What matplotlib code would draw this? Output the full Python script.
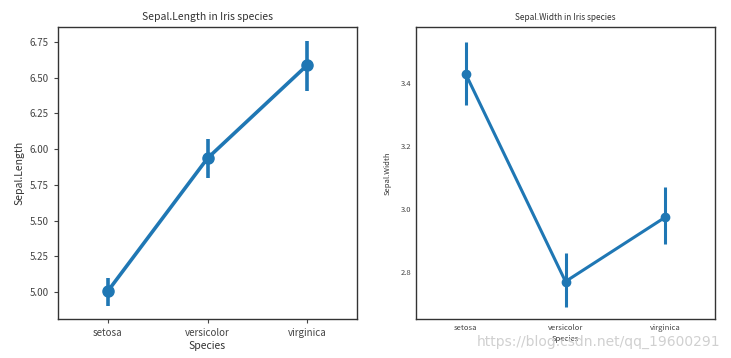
import numpy as np
import matplotlib.pyplot as plt

plt.rcParams['font.family'] = ['Noto Sans CJK SC', 'DejaVu Sans']

# Iris species means with 95% CI
species = ["setosa", "versicolor", "virginica"]
length_mean = [5.006, 5.936, 6.588]
length_lo = [4.90, 5.80, 6.41]
length_hi = [5.10, 6.07, 6.76]
width_mean = [3.428, 2.770, 2.974]
width_lo = [3.33, 2.69, 2.89]
width_hi = [3.53, 2.86, 3.07]

color = '#1f77b4'
fig = plt.figure(figsize=(7.31, 3.58), dpi=100)
ax1 = fig.add_axes([58/731, 1-319/358, 299/731, 292/358])
ax2 = fig.add_axes([416/731, 1-319/358, 299/731, 292/358])

x = np.arange(len(species))

# left panel
ax1.plot(x, length_mean, color=color, lw=2.6, marker='o', ms=8)
ax1.vlines(x, length_lo, length_hi, color=color, lw=2.6)
ax1.set_xlim(-0.5, 2.5)
ax1.set_ylim(4.811, 6.855)
ax1.set_xticks(x)
ax1.set_xticklabels(species)
ax1.set_yticks([5.0, 5.25, 5.5, 5.75, 6.0, 6.25, 6.5, 6.75])
ax1.set_yticklabels(["5.00", "5.25", "5.50", "5.75", "6.00", "6.25", "6.50", "6.75"])
ax1.tick_params(labelsize=7, colors='#444444', length=3, width=0.8)
ax1.set_title("Sepal.Length in Iris species", fontsize=7.5, color='#333333', pad=5)
ax1.set_xlabel("Species", fontsize=7.5, color='#333333', labelpad=2)
ax1.set_ylabel("Sepal.Length", fontsize=7.5, color='#333333', labelpad=4)

# right panel
ax2.plot(x, width_mean, color=color, lw=2.2, marker='o', ms=6)
ax2.vlines(x, width_lo, width_hi, color=color, lw=2.2)
ax2.set_xlim(-0.5, 2.5)
ax2.set_ylim(2.651, 3.578)
ax2.set_xticks(x)
ax2.set_xticklabels(species)
ax2.set_yticks([2.8, 3.0, 3.2, 3.4])
ax2.tick_params(labelsize=5.5, colors='#444444', length=0)
ax2.set_title("Sepal.Width in Iris species", fontsize=6, color='#333333', pad=5)
ax2.set_xlabel("Species", fontsize=5.5, color='#333333', labelpad=2)
ax2.set_ylabel("Sepal.Width", fontsize=5.5, color='#333333', labelpad=6)

for ax in (ax1, ax2):
    for s in ax.spines.values():
        s.set_color('#333333')
        s.set_linewidth(1.0)

fig.text(0.985, 0.045, "https://blog.csdn.net/qq_19600291", ha='right', va='center',
         fontsize=10, color='#d0d0d0', family=['DejaVu Sans'])

fig.savefig("out.png", dpi=100)
